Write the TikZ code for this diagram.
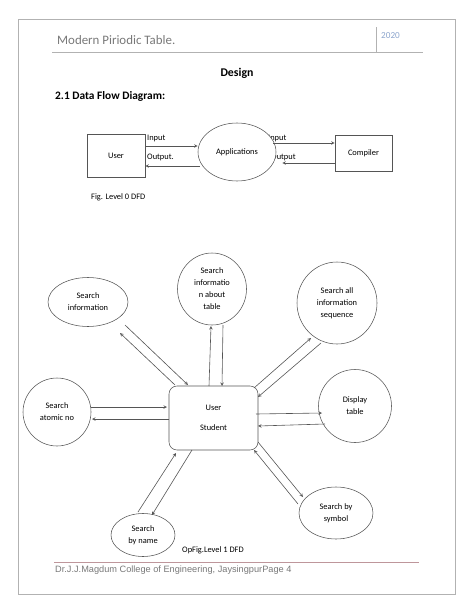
\documentclass[tikz,border=0pt]{standalone}
\usepackage{fontspec}
\setmainfont{Carlito}
\newfontfamily\footfont{Liberation Sans}
\usetikzlibrary{shapes,arrows,positioning}
\definecolor{linegray}{RGB}{85,85,85}
\definecolor{headgray}{RGB}{120,120,120}
\definecolor{yearblue}{RGB}{140,165,205}
\definecolor{footred}{RGB}{190,150,155}

\begin{document}
\begin{tikzpicture}[
    x=1pt, y=-1pt,
    font=\fontsize{8.4}{12}\selectfont,
    proc/.style={ellipse, draw=linegray, fill=white, inner sep=0pt, align=center, line width=0.55pt},
    ent/.style={rectangle, draw=linegray, inner sep=0pt, align=center, line width=0.55pt},
    arrow/.style={->, >=stealth, draw=linegray, line width=0.6pt},
    txt/.style={inner sep=0pt, anchor=west}
]
\useasboundingbox (0,0) rectangle (474,613);

% Page frame
\draw [gray!60, line width=0.8pt] (18,19) rectangle (455,594);

% Header
\node [txt, text=headgray, font=\fontsize{12.9}{15}\selectfont] (head) at (57,40) {Modern Piriodic Table.};
\node [txt, text=yearblue, font=\fontsize{9.2}{11}\selectfont] (year) at (381,36) {2020};
\draw [gray!60, line width=0.7pt] (52,52) -- (423,52);
\draw [gray!60, line width=0.7pt] (376,27) -- (376,52);

% Titles
\node [inner sep=0pt, font=\bfseries\fontsize{11.8}{14}\selectfont] (title) at (237,73) {Design};
\node [txt, font=\bfseries\fontsize{11.4}{14}\selectfont] (sect) at (55,96) {2.1 Data Flow Diagram:};

% Level 0 labels (partly under the Applications bubble)
\node [txt] (in0) at (147,138) {Input};
\node [txt] (out0) at (147,157) {Output.};
\node [txt] (in1) at (268,138) {Input};
\node [txt] (out1) at (271,157) {Output};

% Level 0
\node [ent, minimum width=58pt, minimum height=43pt] (user) at (116,155.5) {User};
\node [proc, minimum width=78pt, minimum height=58pt] (app) at (237,152) {Applications};
\node [ent, minimum width=57pt, minimum height=36pt] (comp) at (363.5,153) {Compiler};

\draw [arrow] ([yshift=9.5pt]user.east) -- ([yshift=6pt]app.west);
\draw [arrow] ([xshift=2pt,yshift=-14pt]app.west) -- ([yshift=-10.5pt]user.east);
\draw [arrow] ([xshift=-3pt,yshift=9pt]app.east) -- ([yshift=10pt]comp.west);
\draw [arrow] ([yshift=-10pt]comp.west) -- ([xshift=6pt,yshift=-11pt]app.east);

\node [txt] (fig0) at (91,197) {Fig. Level 0 DFD};

% Level 1
\node [ent, rounded corners=8pt, minimum width=89pt, minimum height=64pt] (stud) at (213.5,418) {User\\[8pt]Student};
\node [proc, minimum width=80pt, minimum height=49pt] (info) at (88,302) {Search\\information};
\node [proc, minimum width=69pt, minimum height=72pt] (about) at (212,289) {Search\\informatio\\n about\\table};
\node [proc, minimum width=80pt, minimum height=82pt] (seq) at (337,303) {Search all\\information\\sequence};
\node [proc, minimum width=73pt, minimum height=73pt] (disp) at (355,406) {Display\\table};
\node [proc, minimum width=68pt, minimum height=68pt] (atom) at (57,412) {Search\\atomic no};
\node [proc, minimum width=64pt, minimum height=43pt] (name) at (143,535) {Search\\by name};
\node [proc, minimum width=74pt, minimum height=52pt] (sym) at (336,513) {Search by\\symbol};

% Arrows - bubbles and user
\draw [arrow] ([shift={(37,23)}]info.center) -- ([shift={(-25.5,-33)}]stud.center);
\draw [arrow] ([shift={(-38.5,-33)}]stud.center) -- ([shift={(32,31)}]info.center);

\draw [arrow] ([shift={(-4.5,-32)}]stud.center) -- ([shift={(-1,37)}]about.center);
\draw [arrow] ([shift={(11,36)}]about.center) -- ([shift={(8.5,-32)}]stud.center);

\draw [arrow] ([shift={(40.5,-30)}]stud.center) -- ([shift={(-26,35)}]seq.center);
\draw [arrow] ([shift={(-16,40)}]seq.center) -- ([shift={(44.5,-21)}]stud.center);

\draw [arrow] ([shift={(42.5,-4)}]stud.center) -- ([shift={(-33,7)}]disp.center);
\draw [arrow] ([shift={(-30,18)}]disp.center) -- ([shift={(44.5,8)}]stud.center);

\draw [arrow] ([shift={(34,-5)}]atom.center) -- ([shift={(-46.5,-11)}]stud.center);
\draw [arrow] ([shift={(-44.5,1)}]stud.center) -- ([shift={(35,7)}]atom.center);

\draw [arrow] ([shift={(-5,-23)}]name.center) -- ([shift={(-37.5,35)}]stud.center);
\draw [arrow] ([shift={(-21.5,32)}]stud.center) -- ([shift={(9,-20)}]name.center);

\draw [arrow] ([shift={(44.5,24)}]stud.center) -- ([shift={(-33,-16)}]sym.center);
\draw [arrow] ([shift={(-38,-9)}]sym.center) -- ([shift={(40.5,32)}]stud.center);

\node [txt] (fig1) at (182,550) {OpFig.Level 1 DFD};

% Footer
\draw [footred, line width=1pt] (54,562) -- (419,562);
\node [txt, text=headgray, font=\footfont\fontsize{9.2}{11}\selectfont] (foot) at (55,570) {Dr.J.J.Magdum College of Engineering, JaysingpurPage 4};

\end{tikzpicture}
\end{document}
